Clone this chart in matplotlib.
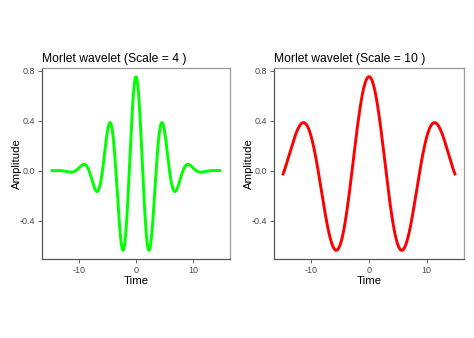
import numpy as np
import matplotlib
matplotlib.use("Agg")
import matplotlib.pyplot as plt

plt.rcParams["font.family"] = ["Liberation Sans", "DejaVu Sans"]
plt.rcParams["axes.unicode_minus"] = False

# wavelet settings shown in the two panels
scales = [4, 10]
colors = ["#00FF00", "#FF0000"]
w0 = 5.336
t_min, t_max = -15, 15
y_ticks = [-0.4, 0.0, 0.4, 0.8]
x_ticks = [-10, 0, 10]


def morlet(t, s):
    u = t / s
    return np.pi ** -0.25 * np.cos(w0 * u) * np.exp(-u ** 2 / 2)


t = np.linspace(t_min, t_max, 1001)

fig = plt.figure(figsize=(4.74, 3.38), dpi=100)
W, H = 474, 338
boxes = [(42, 68, 230, 259), (274, 68, 464, 259)]

for (x0, y0, x1, y1), s, c in zip(boxes, scales, colors):
    ax = fig.add_axes([x0 / W, 1 - y1 / H, (x1 - x0) / W, (y1 - y0) / H])
    ax.plot(t, morlet(t, s), color=c, lw=2.1, solid_capstyle="butt")
    ax.margins(0.05)
    ax.set_xticks(x_ticks)
    ax.set_yticks(y_ticks)
    ax.set_yticklabels(["%.1f" % v for v in y_ticks])
    ax.tick_params(colors="#4D4D4D", labelsize=6.5, length=3, width=0.6, pad=2)
    for side in ["top", "right"]:
        ax.spines[side].set_color("#9A9A9A")
        ax.spines[side].set_linewidth(0.9)
    for side in ["left", "bottom"]:
        ax.spines[side].set_color("#555555")
        ax.spines[side].set_linewidth(0.9)
    ax.set_xlabel("Time", fontsize=8.2, labelpad=1)
    ax.set_ylabel("Amplitude", fontsize=8.2)
    ax.yaxis.set_label_coords(-0.106, 0.5)
    ax.set_title("Morlet wavelet (Scale = %d )" % s, fontsize=8.7, loc="left", pad=4)

fig.savefig("out.png", dpi=100)
